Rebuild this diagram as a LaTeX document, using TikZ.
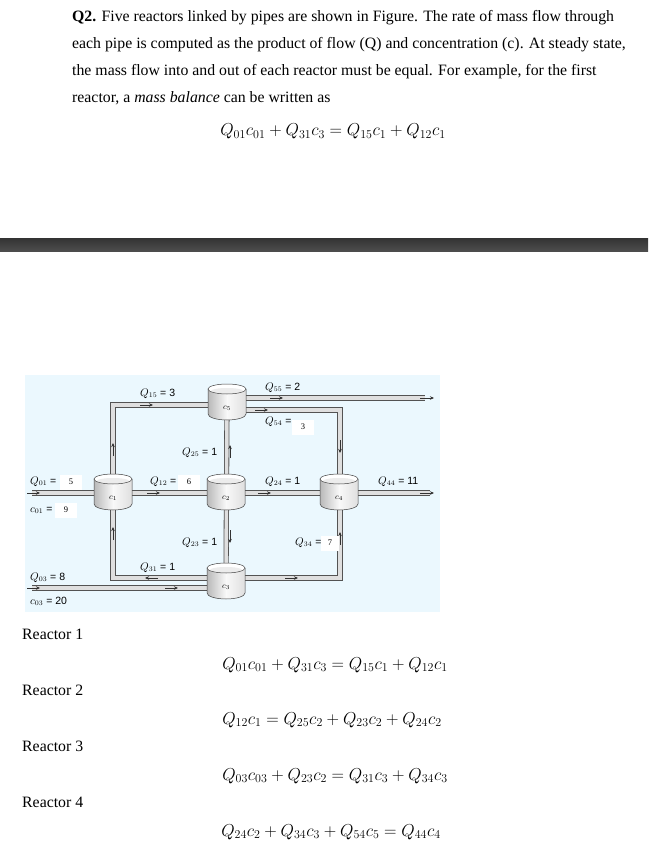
\documentclass[tikz,border=0pt]{standalone}
\usepackage{fontspec}
\setmainfont{Liberation Serif}
\newfontfamily\sansf{Liberation Sans}
\usetikzlibrary{arrows.meta}
\begin{document}
\begin{tikzpicture}[x=1pt,y=1pt,
  txt/.style={anchor=base west,inner sep=0,font=\fontsize{15.8}{18}\selectfont},
  eqn/.style={anchor=base,inner sep=0,font=\fontsize{16.5}{19}\selectfont},
  pipeo/.style={draw=gray!65!black,line width=5.2pt},
  pipei/.style={draw=gray!25,line width=3.6pt},
  flow/.style={-{Stealth[length=4pt,width=3.5pt]},black!80,line width=0.7pt},
  lab/.style={inner sep=0,font=\sansf\fontsize{10.5}{12}\selectfont,anchor=base west},
  wbox/.style={fill=white,inner sep=0,minimum width=22pt,minimum height=15pt,font=\fontsize{8.5}{10}\selectfont}]
\useasboundingbox (0,0) rectangle (648,-845);
% text
\node[txt] (l1) at (72,-22) {\textbf{Q2.} Five reactors linked by pipes are shown in Figure. The rate of mass flow through};
\node[txt] (l2) at (72,-49) {each pipe is computed as the product of flow (Q) and concentration (c). At steady state,};
\node[txt] (l3) at (72,-76) {the mass flow into and out of each reactor must be equal. For example, for the first};
\node[txt] (l4) at (72,-103) {reactor, a \textit{mass balance} can be written as};
\node[eqn] (e0) at (333,-136) {$Q_{01}c_{01}+Q_{31}c_3=Q_{15}c_1+Q_{12}c_1$};
% bar
\shade[top color=gray!40!black,bottom color=gray!60!black] (0,-238) rectangle (648,-251);
% diagram bg
\fill[cyan!8!white] (25,-375) rectangle (440,-612);
% pipes
\foreach \s in {pipeo,pipei}{
\draw[\s] (113,-493) -- (113,-405) -- (227,-405);
\draw[\s] (227,-410) -- (340,-410) -- (340,-493);
\draw[\s] (113,-493) -- (113,-578) -- (340,-578) -- (340,-493);
\draw[\s] (227,-403) -- (226,-582);
\draw[\s] (32,-493) -- (430,-493);
\draw[\s] (32,-588) -- (226,-588);
\draw[\s] (227,-398) -- (425,-398);
}
% arrows
\foreach \a/\b in {{(27,-493)}/{(40,-493)},{(420,-493)}/{(434,-493)},{(27,-588)}/{(40,-588)},{(420,-398)}/{(434,-398)},{(140,-405)}/{(153,-405)},{(147,-493)}/{(160,-493)},{(258,-493)}/{(271,-493)},{(270,-398)}/{(283,-398)},{(255,-410)}/{(268,-410)},{(165,-588)}/{(178,-588)},{(285,-578)}/{(298,-578)},{(158,-578)}/{(145,-578)},{(113,-456)}/{(113,-443)},{(113,-540)}/{(113,-527)},{(230,-458)}/{(230,-445)},{(230,-530)}/{(230,-543)},{(340,-440)}/{(340,-453)},{(340,-545)}/{(340,-532)}}
  \draw[flow] \a -- \b;
% beakers
\foreach \n/\x/\y/\l in {b1/113/493/1,b2/226/493/2,b3/226/582/3,b4/339/493/4,b5/227/403/5}{
  \begin{scope}[shift={(\x,-\y)}]
  \shade[left color=gray!55,right color=gray!25,middle color=gray!5] (-19,14) -- (-19,-11) arc[start angle=180,end angle=360,x radius=19,y radius=6] -- (19,14) -- cycle;
  \draw[gray!50!black,line width=0.5pt] (-19,14) -- (-19,-11) arc[start angle=180,end angle=360,x radius=19,y radius=6] -- (19,14);
  \fill[white] (0,14) ellipse[x radius=19,y radius=5];
  \fill[gray!15] (0,12) ellipse[x radius=16,y radius=3];
  \draw[gray!50!black,line width=0.5pt] (0,14) ellipse[x radius=19,y radius=5];
  \node[inner sep=0,font=\fontsize{8.5}{9}\selectfont] (\n) at (0,-5) {$c_\l$};
  \end{scope}}
% labels
\node[lab] (q15) at (140,-396) {$Q_{15}$ = 3};
\node[lab] (q55) at (265,-390) {$Q_{55}$ = 2};
\node[lab] (q54) at (265,-424) {$Q_{54}$ =};
\node[wbox] (v54) at (303,-427) {3};
\node[lab] (q25) at (182,-455) {$Q_{25}$ = 1};
\node[lab] (q01) at (30,-484) {$Q_{01}$ =};
\node[wbox] (v01) at (71,-482) {5};
\node[lab] (c01) at (30,-512) {$c_{01}$ =};
\node[wbox] (v01b) at (66,-510) {9};
\node[lab] (q12) at (150,-484) {$Q_{12}$ =};
\node[wbox] (v12) at (189,-482) {6};
\node[lab] (q24) at (265,-484) {$Q_{24}$ = 1};
\node[lab] (q44) at (378,-484) {$Q_{44}$ = 11};
\node[lab] (q23) at (182,-545) {$Q_{23}$ = 1};
\node[lab] (q34) at (295,-545) {$Q_{34}$ =};
\node[wbox,minimum width=18pt] (v34) at (330,-543) {7};
\node[lab] (q31) at (140,-570) {$Q_{31}$ = 1};
\node[lab] (q03) at (30,-580) {$Q_{03}$ = 8};
\node[lab] (c03) at (30,-604) {$c_{03}$ = 20};
% reactors
\node[txt] (r1) at (22,-639) {Reactor 1};
\node[txt] (r2) at (22,-695) {Reactor 2};
\node[txt] (r3) at (22,-751) {Reactor 3};
\node[txt] (r4) at (22,-807) {Reactor 4};
\node[eqn] (e1) at (335,-669) {$Q_{01}c_{01}+Q_{31}c_3=Q_{15}c_1+Q_{12}c_1$};
\node[eqn] (e2) at (332,-724) {$Q_{12}c_1=Q_{25}c_2+Q_{23}c_2+Q_{24}c_2$};
\node[eqn] (e3) at (335,-780) {$Q_{03}c_{03}+Q_{23}c_2=Q_{31}c_3+Q_{34}c_3$};
\node[eqn] (e4) at (331,-836) {$Q_{24}c_2+Q_{34}c_3+Q_{54}c_5=Q_{44}c_4$};
\end{tikzpicture}
\end{document}
